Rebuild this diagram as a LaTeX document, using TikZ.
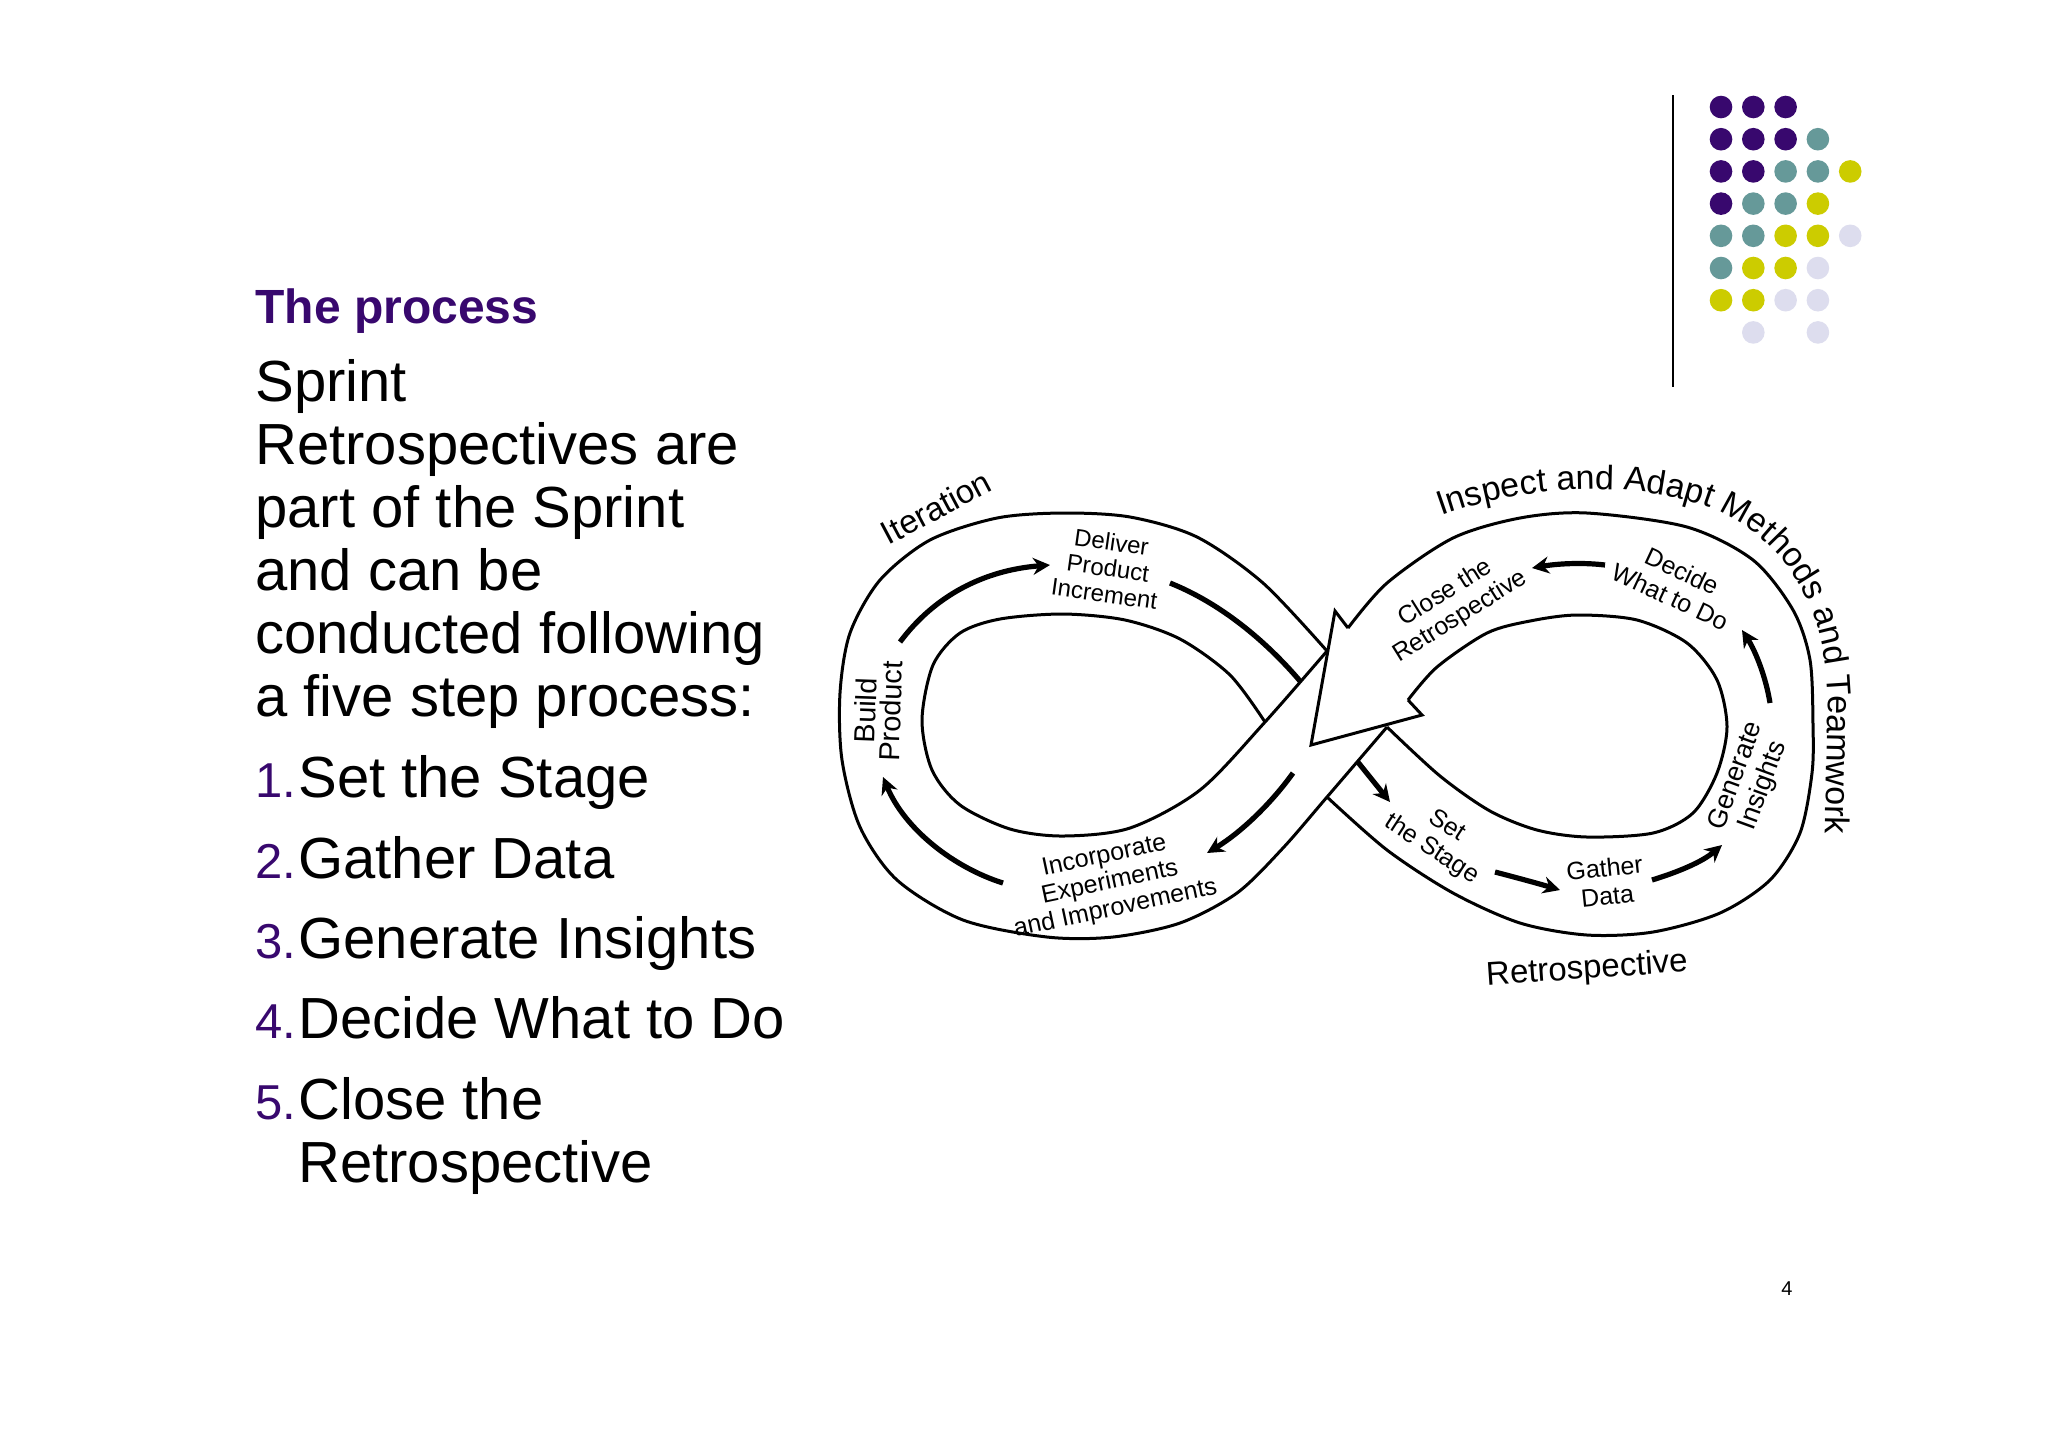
\documentclass[tikz,border=0pt]{standalone}
\usepackage{fontspec}
\setmainfont{Liberation Sans}
\usetikzlibrary{arrows.meta,decorations.text}
\definecolor{dpurple}{RGB}{56,8,110}
\definecolor{dteal}{RGB}{102,153,153}
\definecolor{dyellow}{RGB}{204,204,0}
\definecolor{dlav}{RGB}{221,221,238}
\begin{document}
\begin{tikzpicture}[x=0.5pt,y=-0.5pt,
  band/.style={line width=1.5pt, line join=round},
  flow/.style={line width=2.6pt, -{Stealth[length=8.5pt,width=8.5pt]}},
  flowline/.style={line width=2.6pt},
  lbl/.style={inner sep=0pt, align=center, font=\fontsize{12.5}{14}\selectfont},
  big/.style={inner sep=0pt, font=\fontsize{16.5}{19}\selectfont},
  body/.style={inner sep=0pt, anchor=base west, font=\fontsize{29}{31.5}\selectfont},
  num/.style={inner sep=0pt, anchor=base west, text=dpurple, font=\fontsize{24.5}{28}\selectfont},
  ttl/.style={inner sep=0pt, anchor=base west, text=dpurple, font=\bfseries\fontsize{24}{28}\selectfont},
  dot/.style={circle, inner sep=0pt, minimum size=11.3pt},
]
\fill[white] (0,0) rectangle (2048,1448);
\useasboundingbox (0,0) rectangle (2048,1448);

% ---------- left text ----------
\node[ttl] (title) at (255,323) {The process};
\node[body] (b1) at (255,401) {Sprint};
\node[body] (b2) at (255,464) {Retrospectives are};
\node[body] (b3) at (255,527) {part of the Sprint};
\node[body] (b4) at (255,590) {and can be};
\node[body] (b5) at (255,653) {conducted following};
\node[body] (b6) at (255,716) {a five step process:};
\node[num] (n1) at (255,797) {1.};
\node[body] (i1) at (298,797) {Set the Stage};
\node[num] (n2) at (255,878) {2.};
\node[body] (i2) at (298,878) {Gather Data};
\node[num] (n3) at (255,958) {3.};
\node[body] (i3) at (298,958) {Generate Insights};
\node[num] (n4) at (255,1038) {4.};
\node[body] (i4) at (298,1038) {Decide What to Do};
\node[num] (n5) at (255,1119) {5.};
\node[body] (i5) at (298,1119) {Close the};
\node[body] (i5b) at (298,1182) {Retrospective};
\node[inner sep=0pt, font=\fontsize{10}{12}\selectfont] (pnum) at (1787,1289) {4};

% ---------- dot grid ----------
\coordinate (vt) at (1673,95);
\coordinate (vb) at (1673,387);
\draw[line width=1.4pt] (vt) -- (vb);
\foreach \c/\r/\col in {
  1/1/dpurple,2/1/dpurple,3/1/dpurple,
  1/2/dpurple,2/2/dpurple,3/2/dpurple,4/2/dteal,
  1/3/dpurple,2/3/dpurple,3/3/dteal,4/3/dteal,5/3/dyellow,
  1/4/dpurple,2/4/dteal,3/4/dteal,4/4/dyellow,
  1/5/dteal,2/5/dteal,3/5/dyellow,4/5/dyellow,5/5/dlav,
  1/6/dteal,2/6/dyellow,3/6/dyellow,4/6/dlav,
  1/7/dyellow,2/7/dyellow,3/7/dlav,4/7/dlav,
  2/8/dlav,4/8/dlav}
  \node[dot, fill=\col] (d-\c-\r) at ({1721+(\c-1)*32.3},{107+(\r-1)*32.2}) {};

% ---------- infinity band ----------
\coordinate (J1) at (1327,651);
\coordinate (J2) at (1387,727);
\coordinate (J3) at (1265,722);
\coordinate (J4) at (1327,797);
\coordinate (N1) at (1348,628);
\coordinate (N2) at (1408,700);
\coordinate (B1) at (1335,611);
\coordinate (B2) at (1422,715);
\coordinate (T) at (1311,745);

% left loop outer
\draw[band] plot[smooth] coordinates {(1327,651) (1263,583) (1197,537) (1130,517) (1063,513) (997,518) (930,540) (880,580) (850,633) (840,693) (842,760) (860,827) (897,880) (963,920) (1047,937) (1113,937) (1180,923) (1237,893) (1283,848) (1327,797) (1387,727)};
% left loop inner
\draw[band] plot[smooth] coordinates {(1265,722) (1230,675) (1180,639) (1125,620) (1063,614) (1000,619) (960,633) (933,665) (922,720) (932,770) (960,805) (1010,829) (1063,836) (1130,828) (1200,790) (1265,722) (1327,651)};
% right loop inner
\draw[band] plot[smooth] coordinates {(1387,727) (1440,776) (1490,811) (1537,830) (1587,837) (1653,833) (1693,813) (1717,773) (1727,727) (1717,680) (1687,643) (1637,620) (1577,615) (1530,621) (1487,633) (1437,667) (1408,700)};
% right loop outer
\draw[band] plot[smooth] coordinates {(1327,797) (1387,850) (1453,893) (1520,923) (1587,935) (1653,932) (1720,913) (1770,880) (1800,833) (1812,773) (1813,725) (1810,660) (1793,610) (1753,560) (1687,527) (1587,513) (1520,518) (1453,538) (1387,583) (1348,628)};
% big arrow head
\draw[line width=1.5pt, line join=miter] (N1) -- (B1) -- (T) -- (B2) -- (N2);

% ---------- flow arrows ----------
\coordinate (a1s) at (900,642);   \coordinate (a1e) at (1050,565);
\coordinate (a2s) at (1170,583);  \coordinate (a2e) at (1300,681);
\coordinate (a3s) at (1293,773);  \coordinate (a3e) at (1207,853);
\coordinate (a4s) at (1003,883);  \coordinate (a4e) at (883,777);
\coordinate (a5s) at (1357,761);  \coordinate (a5e) at (1390,802);
\coordinate (a6s) at (1495,872);  \coordinate (a6e) at (1560,890);
\coordinate (a7s) at (1652,880);  \coordinate (a7e) at (1722,845);
\coordinate (a8s) at (1770,703);  \coordinate (a8e) at (1742,630);
\coordinate (a9s) at (1605,565);  \coordinate (a9e) at (1532,568);
\draw[flow] (a1s) .. controls (935,595) and (985,570) .. (a1e);
\draw[flowline] (a2s) .. controls (1220,603) and (1265,640) .. (a2e);
\draw[flow] (a3s) .. controls (1270,805) and (1240,833) .. (a3e);
\draw[flow] (a4s) .. controls (955,868) and (905,830) .. (a4e);
\draw[flow] (a5s) -- (a5e);
\draw[flow] (a6s) .. controls (1518,878) and (1540,884) .. (a6e);
\draw[flow] (a7s) .. controls (1678,872) and (1702,862) .. (a7e);
\draw[flow] (a8s) .. controls (1766,678) and (1756,652) .. (a8e);
\draw[flow] (a9s) .. controls (1580,562) and (1555,564) .. (a9e);

% ---------- diagram labels ----------
\node[big, rotate=28] (iter) at (936,507) {Iteration};
\node[lbl, rotate=-8, font=\fontsize{12}{13}\selectfont] (deliver) at (1108,568) {Deliver\\Product\\Increment};
\node[lbl, rotate=88, font=\fontsize{14.5}{12.5}\selectfont] (build) at (878,711) {Build\\Product};
\node[lbl, rotate=12, font=\fontsize{12.5}{13.5}\selectfont] (incorp) at (1110,883) {Incorporate\\Experiments\\and Improvements};
\node[lbl, rotate=32] (close) at (1453,605) {Close the\\Retrospective};
\node[lbl, rotate=-25] (decide) at (1676,584) {Decide\\What to Do};
\node[lbl, rotate=70, font=\fontsize{13.5}{14.5}\selectfont] (gen) at (1750,781) {Generate\\Insights};
\node[lbl, rotate=6] (gather) at (1606,882) {Gather\\Data};
\node[lbl, rotate=-33] (set) at (1439,838) {Set\\the Stage};
\node[big, rotate=4] (retro) at (1587,970) {Retrospective};
\path[decorate, decoration={text along path, text align=left,
  text={|\fontsize{17}{20}\selectfont|Inspect and Adapt Methods and Teamwork}}]
  (1441,516) .. controls (1530,484) and (1640,478) .. (1720,512)
  .. controls (1790,545) and (1826,610) .. (1828,700) -- (1824,880);
\end{tikzpicture}
\end{document}
